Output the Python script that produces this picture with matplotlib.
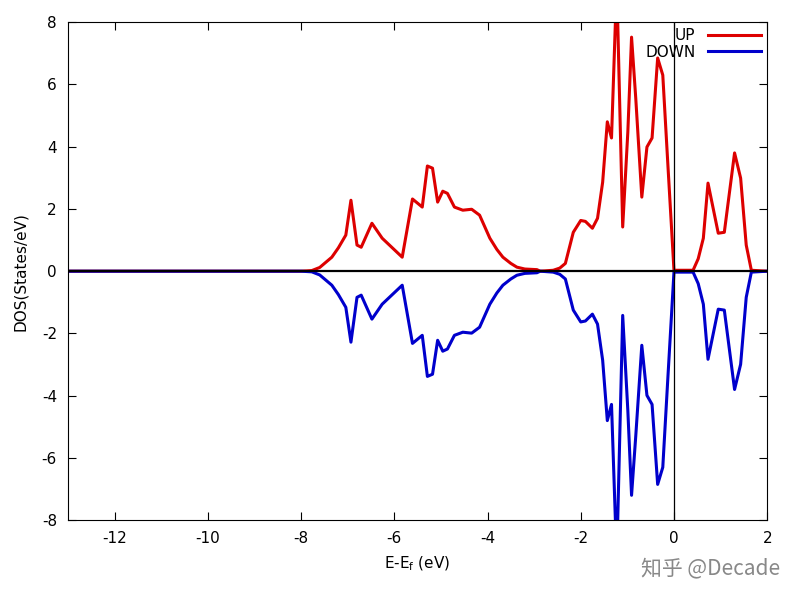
import matplotlib
matplotlib.use("Agg")
import matplotlib.pyplot as plt
plt.rcParams["axes.unicode_minus"] = False

energy = [-13.0, -8.0, -7.77, -7.6, -7.34, -7.2, -7.04, -6.93, -6.80, -6.71, -6.48, -6.26, -5.83, -5.61, -5.40,
          -5.29, -5.18, -5.07, -4.96, -4.86, -4.71, -4.53, -4.34, -4.17, -3.95, -3.8, -3.67, -3.5, -3.37, -3.2,
          -2.94, -2.87, -2.59, -2.45, -2.33, -2.16, -2.0, -1.9, -1.75, -1.64, -1.53, -1.43, -1.34,
          -1.25, -1.21, -1.1, -0.99, -0.91, -0.82, -0.69, -0.58, -0.47, -0.35, -0.24, -0.13,
          0.0, 0.41, 0.52, 0.63, 0.73, 0.95, 1.08, 1.3, 1.43, 1.55, 1.66, 2.0]
dos_up = [0.0, 0.0, 0.02, 0.12, 0.45, 0.75, 1.16, 2.28, 0.84, 0.77, 1.54, 1.06, 0.45, 2.32, 2.06,
          3.38, 3.31, 2.22, 2.57, 2.5, 2.06, 1.96, 1.99, 1.8, 1.06, 0.7, 0.45, 0.25, 0.13, 0.07,
          0.05, 0.0, 0.03, 0.1, 0.25, 1.25, 1.63, 1.6, 1.38, 1.7, 2.86, 4.8, 4.28,
          8.3, 8.2, 1.42, 4.47, 7.52, 5.56, 2.38, 3.99, 4.28, 6.85, 6.3, 3.4,
          0.03, 0.03, 0.4, 1.06, 2.83, 1.22, 1.25, 3.8, 2.99, 0.84, 0.03, 0.0]
dos_down = [0.0, 0.0, -0.02, -0.12, -0.45, -0.75, -1.16, -2.28, -0.84, -0.77, -1.54, -1.06, -0.45, -2.32, -2.06,
            -3.38, -3.31, -2.22, -2.57, -2.5, -2.06, -1.96, -1.99, -1.8, -1.06, -0.7, -0.45, -0.25, -0.13, -0.07,
            -0.05, 0.0, -0.03, -0.1, -0.25, -1.25, -1.63, -1.6, -1.38, -1.7, -2.86, -4.8, -4.28,
            -8.3, -8.2, -1.42, -4.47, -7.2, -5.3, -2.38, -3.99, -4.28, -6.85, -6.3, -3.4,
            -0.03, -0.03, -0.4, -1.06, -2.83, -1.22, -1.25, -3.8, -2.99, -0.84, -0.03, 0.0]
xticks = [-12, -10, -8, -6, -4, -2, 0, 2]
yticks = [-8, -6, -4, -2, 0, 2, 4, 6, 8]

fig = plt.figure(figsize=(8, 6), dpi=100)
ax = fig.add_axes([0.085, 0.133, 0.874, 0.830])
ax.plot(energy, dos_up, color="#dd0000", lw=2.2, label="UP")
ax.plot(energy, dos_down, color="#0000cc", lw=2.2, label="DOWN")
ax.axhline(0, color="black", lw=1.6)
ax.axvline(0, color="black", lw=0.9)
ax.set_xlim(-13, 2)
ax.set_ylim(-8, 8)
ax.set_xticks(xticks)
ax.set_yticks(yticks)
ax.tick_params(direction="in", top=True, right=True, length=6, labelsize=11, pad=8)
ax.set_xlabel("E-E$_\\mathrm{f}$ (eV)", fontsize=11, labelpad=6)
ax.set_ylabel("DOS(States/eV)", fontsize=11, labelpad=10)
leg = ax.legend(loc="upper right", frameon=False, markerfirst=False, fontsize=11,
                handlelength=3.5, borderpad=0.1, labelspacing=0.1, borderaxespad=0.3)
fig.text(0.975, 0.035, "知乎 @Decade", ha="right", va="bottom", fontsize=15, color="#888888",
         family=["Noto Sans CJK SC", "DejaVu Sans"])
fig.savefig("out.png")
